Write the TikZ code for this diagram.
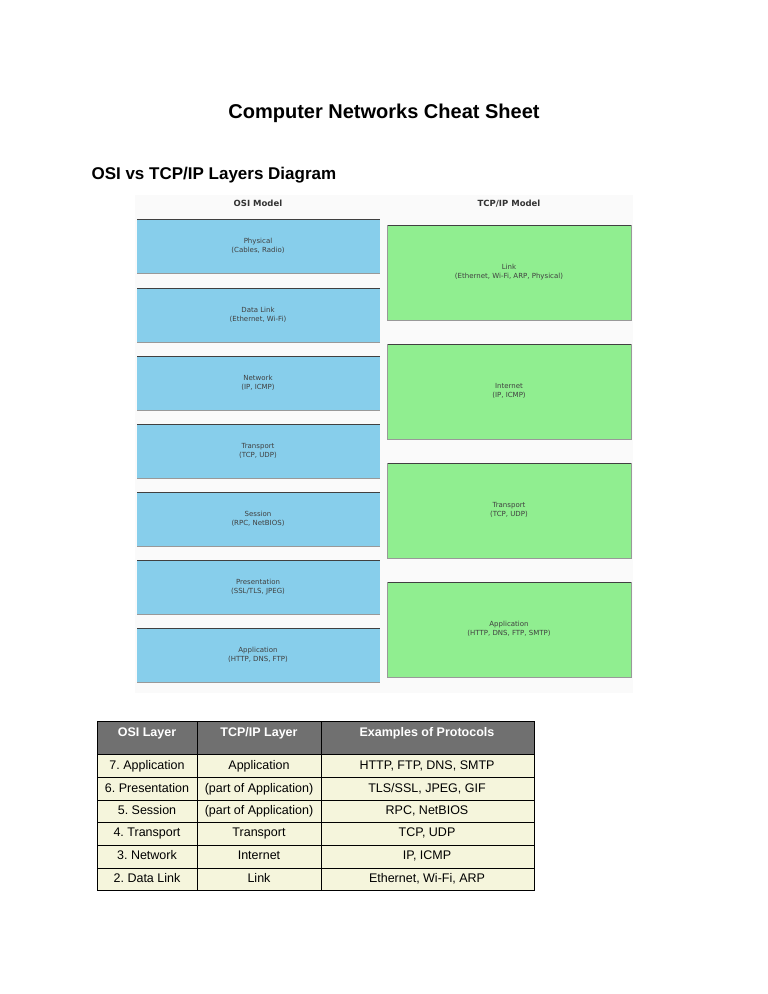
\documentclass[tikz,border=0pt]{standalone}
\usepackage{fontspec}
\setmainfont{Liberation Sans}
\newfontfamily\dejavu{DejaVu Sans}
\frenchspacing
\definecolor{osiblue}{HTML}{87CEEB}
\definecolor{tcpgreen}{HTML}{90EE90}
\definecolor{headgrey}{HTML}{707070}
\definecolor{rowbeige}{HTML}{F5F5DC}
\tikzset{
  layerbox/.style={inner sep=0pt, align=center, font=\dejavu\fontsize{7}{8.5}\selectfont, text=black!75},
  modelhead/.style={inner sep=0pt, text height=7pt, text depth=2pt, font=\dejavu\bfseries\fontsize{8.5}{10}\selectfont, text=black!80},
  cell/.style={font=\fontsize{12.5}{14}\selectfont, anchor=center, text height=9pt, text depth=3pt, inner sep=0pt},
}
\begin{document}
\begin{tikzpicture}[x=1pt,y=-1pt]
        \useasboundingbox[fill=white] (0,0) rectangle (768,994);
        \node[font=\bfseries\fontsize{20}{24}\selectfont] (title) at (384,113) {Computer Networks Cheat Sheet};
        \node[anchor=west, font=\bfseries\fontsize{17}{20}\selectfont] (sub) at (88,175) {OSI vs TCP/IP Layers Diagram};

        % diagram
        \fill[black!2] (135,195) rectangle (633,693);
        \node[modelhead] (osihead) at (258,204) {OSI Model};
        \node[modelhead] (tcphead) at (509,204) {TCP/IP Model};
        \foreach \y/\txt [count=\i] in {219/{Physical\\(Cables, Radio)}, 288/{Data Link\\(Ethernet, Wi-Fi)},
                356/{Network\\(IP, ICMP)}, 424/{Transport\\(TCP, UDP)}, 492/{Session\\(RPC, NetBIOS)},
                560/{Presentation\\(SSL/TLS, JPEG)}, 628/{Application\\(HTTP, DNS, FTP)}} {
            \fill[osiblue] (137,\y) rectangle (380,\y+54);
            \draw[black!75, line width=0.8pt] (137,\y) -- (380,\y);
            \draw[black!40, line width=0.4pt] (137,\y+54) -- (380,\y+54);
            \node[layerbox] (osi\i) at (258,\y+27) {\txt};
        }
        \foreach \y/\txt [count=\i] in {225/{Link\\(Ethernet, Wi-Fi, ARP, Physical)}, 344/{Internet\\(IP, ICMP)},
                463/{Transport\\(TCP, UDP)}, 582/{Application\\(HTTP, DNS, FTP, SMTP)}} {
            \fill[tcpgreen] (387,\y) rectangle (631,\y+95);
            \draw[black!75, line width=0.8pt] (387,\y) -- (631,\y);
            \draw[black!40, line width=0.4pt] (387,\y+95) -- (387,\y) (631,\y) -- (631,\y+95) -- (387,\y+95);
            \node[layerbox] (tcp\i) at (509,\y+47) {\txt};
        }

        % table
        \fill[headgrey] (97,721) rectangle (534,754);
        \fill[rowbeige] (97,754) rectangle (534,890);
        \node[cell, text=white, font=\bfseries\fontsize{12.5}{14}\selectfont] (h1) at (147,733) {OSI Layer};
        \node[cell, text=white, font=\bfseries\fontsize{12.5}{14}\selectfont] (h2) at (259,733) {TCP/IP Layer};
        \node[cell, text=white, font=\bfseries\fontsize{12.5}{14}\selectfont] (h3) at (427,733) {Examples of Protocols};
        \foreach \y/\a/\b/\c [count=\i] in {766/7. Application/Application/{HTTP, FTP, DNS, SMTP},
                789/6. Presentation/(part of Application)/{TLS/SSL, JPEG, GIF},
                811/5. Session/(part of Application)/{RPC, NetBIOS},
                833/4. Transport/Transport/{TCP, UDP},
                856/3. Network/Internet/{IP, ICMP},
                879/2. Data Link/Link/{Ethernet, Wi-Fi, ARP}} {
            \node[cell] (ra\i) at (147,\y) {\a};
            \node[cell] (rb\i) at (259,\y) {\b};
            \node[cell] (rc\i) at (427,\y) {\c};
        }
        \draw[line width=0.8pt] (97,721) rectangle (534,890);
        \foreach \x in {197,321} \draw[line width=0.8pt] (\x,721) -- (\x,890);
        \foreach \y in {754,777,800,822,845,868} \draw[line width=0.8pt] (97,\y) -- (534,\y);
\end{tikzpicture}
\end{document}
